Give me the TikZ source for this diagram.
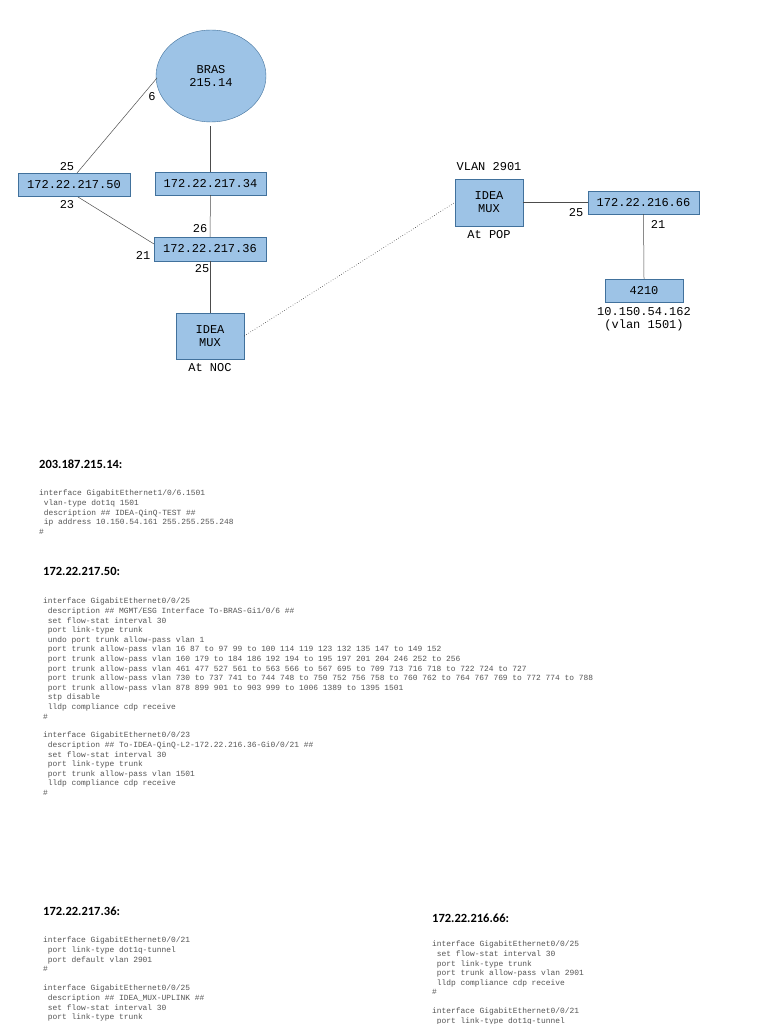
\documentclass[tikz,border=0pt]{standalone}
\usepackage{fontspec}
\setmainfont{Liberation Mono}
\newfontfamily\headf{Carlito}
\usetikzlibrary{shapes.geometric}
\definecolor{boxfill}{HTML}{9DC3E6}
\definecolor{boxdraw}{HTML}{41719C}
\definecolor{codec}{HTML}{555555}
\begin{document}
\begin{tikzpicture}[x=1pt,y=-1pt,
 dev/.style={draw=boxdraw,fill=boxfill,inner sep=0pt,font=\fontsize{12}{13}\selectfont},
 lbl/.style={font=\fontsize{12}{13}\selectfont,inner sep=0pt},
 head/.style={font=\headf\bfseries\fontsize{12.5}{14}\selectfont,anchor=west,inner sep=0pt},
 code/.style={font=\fontsize{7.9}{9.6}\selectfont,text=codec,anchor=north west,align=left,inner sep=0pt},
 link/.style={draw=black!70,line width=0.5pt}]
\useasboundingbox (0,0) rectangle (768,1024);
\fill[white] (0,0) rectangle (768,1024);
% devices
\node[dev,ellipse,minimum width=110,minimum height=92,align=center] (bras) at (211,76) {BRAS\\215.14};
\node[dev,minimum width=112,minimum height=23] (s50) at (74,184.5) {172.22.217.50};
\node[dev,minimum width=111,minimum height=23] (s34) at (210.5,183.5) {172.22.217.34};
\node[dev,minimum width=112,minimum height=24] (s36) at (210,249) {172.22.217.36};
\node[dev,minimum width=68,minimum height=46,align=center] (mnoc) at (210,336) {IDEA\\MUX};
\node[dev,minimum width=68,minimum height=47,align=center] (mpop) at (489,202.5) {IDEA\\MUX};
\node[dev,minimum width=111,minimum height=23] (s66) at (643.5,202.5) {172.22.216.66};
\node[dev,minimum width=78,minimum height=23] (d4210) at (644,290.5) {4210};
% labels
\node[lbl] (tnoc) at (210,368) {At NOC};
\node[lbl] (tvlan) at (489,167) {VLAN 2901};
\node[lbl] (tpop) at (489,235) {At POP};
\node[lbl,align=center] (t4210) at (644,319) {10.150.54.162\\(vlan 1501)};
\node[lbl] (p6) at (152,97) {6};
\node[lbl] (p25a) at (67,167) {25};
\node[lbl] (p23) at (67,205) {23};
\node[lbl] (p21a) at (143,255) {21};
\node[lbl] (p26) at (200,229) {26};
\node[lbl] (p25b) at (202,269) {25};
\node[lbl] (p25c) at (576,213) {25};
\node[lbl] (p21b) at (658,224) {21};
% links
\coordinate (b1) at (157,78);
\coordinate (b2) at (77,173);
\draw[link] (b1) -- (b2);
\coordinate (b3) at (78,197);
\coordinate (b4) at (154,244);
\draw[link] (b3) -- (b4);
\draw[link] (bras.south -| s34.north) ++(0,4) -- (s34.north);
\draw[link] (s34.south) -- (s36.north);
\draw[link] (s36.south) -- (mnoc.north);
\draw[link,draw=black!85,dotted,line width=0.6pt] (mnoc.east) -- (mpop.west);
\draw[link] (mpop.east) -- (s66.west);
\draw[link] (s66.south) -- (d4210.north);
% headings
\node[head] (h1) at (39,464) {203.187.215.14:};
\node[head] (h2) at (43,571) {172.22.217.50:};
\node[head] (h3) at (43,911) {172.22.217.36:};
\node[head] (h4) at (432,918) {172.22.216.66:};
% code
\node[code] (c1) at (39,490) {interface GigabitEthernet1/0/6.1501\\
\ vlan-type dot1q 1501\\
\ description \#\# IDEA-QinQ-TEST \#\#\\
\ ip address 10.150.54.161 255.255.255.248\\
\#};
\node[code] (c2) at (43,598) {interface GigabitEthernet0/0/25\\
\ description \#\# MGMT/ESG Interface To-BRAS-Gi1/0/6 \#\#\\
\ set flow-stat interval 30\\
\ port link-type trunk\\
\ undo port trunk allow-pass vlan 1\\
\ port trunk allow-pass vlan 16 87 to 97 99 to 100 114 119 123 132 135 147 to 149 152\\
\ port trunk allow-pass vlan 160 179 to 184 186 192 194 to 195 197 201 204 246 252 to 256\\
\ port trunk allow-pass vlan 461 477 527 561 to 563 566 to 567 695 to 709 713 716 718 to 722 724 to 727\\
\ port trunk allow-pass vlan 730 to 737 741 to 744 748 to 750 752 756 758 to 760 762 to 764 767 769 to 772 774 to 788\\
\ port trunk allow-pass vlan 878 899 901 to 903 999 to 1006 1389 to 1395 1501\\
\ stp disable\\
\ lldp compliance cdp receive\\
\#};
\node[code] (c3) at (43,732) {interface GigabitEthernet0/0/23\\
\ description \#\# To-IDEA-QinQ-L2-172.22.216.36-Gi0/0/21 \#\#\\
\ set flow-stat interval 30\\
\ port link-type trunk\\
\ port trunk allow-pass vlan 1501\\
\ lldp compliance cdp receive\\
\#};
\node[code] (c4) at (43,937) {interface GigabitEthernet0/0/21\\
\ port link-type dot1q-tunnel\\
\ port default vlan 2901\\
\#\\[9.6pt]
interface GigabitEthernet0/0/25\\
\ description \#\# IDEA\_MUX-UPLINK \#\#\\
\ set flow-stat interval 30\\
\ port link-type trunk};
\node[code] (c5) at (432,941) {interface GigabitEthernet0/0/25\\
\ set flow-stat interval 30\\
\ port link-type trunk\\
\ port trunk allow-pass vlan 2901\\
\ lldp compliance cdp receive\\
\#\\[9pt]
interface GigabitEthernet0/0/21\\
\ port link-type dot1q-tunnel};
\end{tikzpicture}
\end{document}
